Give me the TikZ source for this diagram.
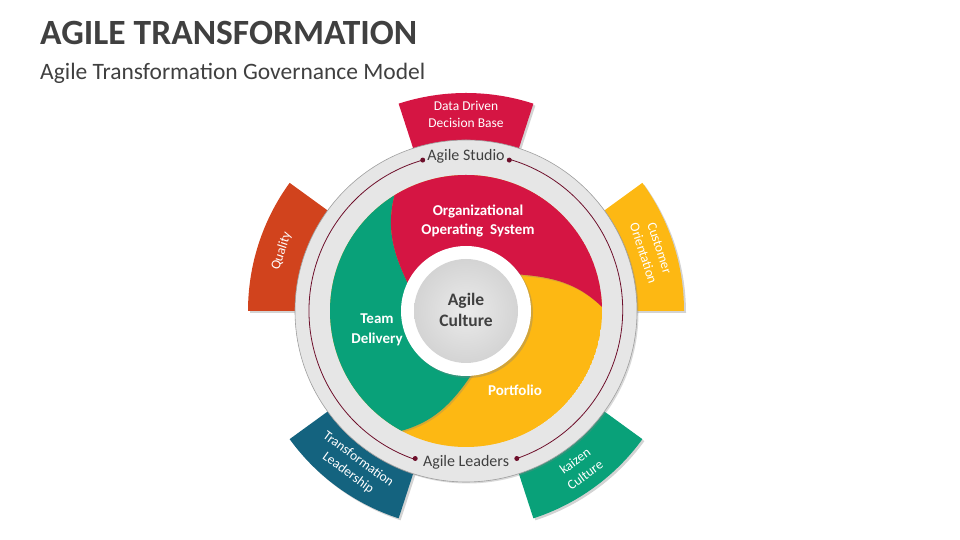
\documentclass[tikz,border=0pt]{standalone}
\usepackage{fontspec}
\setmainfont{Carlito}
\usetikzlibrary{shadows}
\definecolor{crim}{HTML}{D51543}
\definecolor{gold}{HTML}{FDB813}
\definecolor{jade}{HTML}{09A179}
\definecolor{tabblue}{HTML}{14637F}
\definecolor{rust}{HTML}{D1431D}
\definecolor{ringline}{HTML}{6E0F2B}
\definecolor{ink}{HTML}{404040}
\definecolor{ringgray}{HTML}{E6E6E6}
\begin{document}
\begin{tikzpicture}[x=1pt,y=1pt,
  tabshape/.style={drop shadow={opacity=0.35,shadow xshift=2pt,shadow yshift=-2pt}},
  softshadow/.style={drop shadow={opacity=0.3,shadow xshift=1.5pt,shadow yshift=-1.5pt}},
  tabtext/.style={text=white,font=\fontsize{13.5}{17}\selectfont,align=center,inner sep=0pt},
  swirltext/.style={text=white,font=\bfseries\fontsize{15}{19.5}\selectfont,align=center,inner sep=0pt},
  ringlabel/.style={text=ink,font=\fontsize{16}{18}\selectfont,inner sep=1pt},
  ringdot/.style={circle,fill=ringline,inner sep=0pt,minimum size=5pt}]
\useasboundingbox (0,0) rectangle (960,540);
\node[anchor=base west,text=ink,font=\bfseries\fontsize{35.5}{40}\selectfont,inner sep=0pt] (title) at (40,495) {AGILE TRANSFORMATION};
\node[anchor=base west,text=ink,font=\fontsize{23.5}{27}\selectfont,inner sep=0pt] (subtitle) at (40,460) {Agile Transformation Governance Model};

\begin{scope}[shift={(466,229)}]
  % outer tabs
  \foreach \a/\c in {0/gold,72/crim,144/rust,216/tabblue,288/jade}{
    \fill[\c,tabshape] (\a:150pt) -- (\a:218pt) arc[start angle=\a,end angle=\a+36,radius=218pt] -- (\a+36:150pt) -- cycle;
  }
  % grey ring
  \fill[ringgray,draw=black!38,line width=0.6pt,softshadow] (0,0) circle[radius=171pt];
  % maroon guide circle
  \coordinate (s1) at (106:157pt);
  \coordinate (s2) at (74:157pt);
  \coordinate (l1) at (251:156pt);
  \coordinate (l2) at (289:156pt);
  \draw[ringline,line width=0.8pt] (s1) arc[start angle=106,end angle=251,radius=157pt];
  \draw[ringline,line width=0.8pt] (l2) arc[start angle=-71,end angle=74,radius=157pt];
  \node[ringdot] (d1) at (s1) {};
  \node[ringdot] (d2) at (s2) {};
  \node[ringdot] (d3) at (l1) {};
  \node[ringdot] (d4) at (l2) {};
  \node[ringlabel] (studio) at (90:155pt) {Agile Studio};
  \node[ringlabel] (leaders) at (270:151pt) {Agile Leaders};

  % swirl
  \begin{scope}
    \clip (0,0) circle[radius=136pt];
    \fill[gold] (0,0) circle[radius=136pt];
    \fill[jade,softshadow] (0,0) -- (158:60pt) to[out=116.5,in=253.5] (120:140pt)
      arc[start angle=120,end angle=240,radius=140pt] to[out=13.5,in=236.5] (278:60pt) -- cycle;
    \fill[crim,softshadow] (0,0) -- (38:60pt) to[out=-3.5,in=133.5] (0:140pt)
      arc[start angle=0,end angle=120,radius=140pt] to[out=253.5,in=116.5] (158:60pt) -- cycle;
  \end{scope}

  % centre
  \fill[white,drop shadow={opacity=0.35,shadow xshift=2pt,shadow yshift=-2pt}] (0,0) circle[radius=65pt];
  \shade[inner color=black!8,outer color=black!17] (0,0) circle[radius=52pt];
  \node[text=ink,font=\bfseries\fontsize{17.5}{21}\selectfont,align=center] (core) at (0,1) {Agile\\Culture};

  % swirl labels
  \node[swirltext] (oos) at (12,90) {Organizational\\Operating~ System};
  \node[swirltext] (team) at (-89,-19) {Team\\Delivery};
  \node[swirltext] (port) at (49,-79) {Portfolio};

  % tab labels
  \node[tabtext] (t1) at (90:197pt) {Data Driven\\Decision Base};
  \node[tabtext,rotate=-72] (t2) at (18:195pt) {Customer\\Orientation};
  \node[tabtext,rotate=72] (t3) at (162:194pt) {Quality};
  \node[tabtext,rotate=-36] (t4) at (234:192pt) {Transformation\\Leadership};
  \node[tabtext,rotate=36] (t5) at (306:194pt) {kaizen\\Culture};
\end{scope}
\end{tikzpicture}
\end{document}
